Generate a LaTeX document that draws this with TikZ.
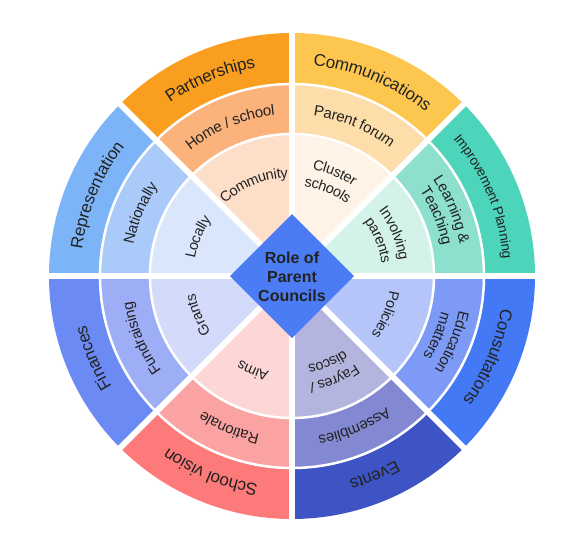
\documentclass[tikz,border=0pt]{standalone}
\usepackage{fontspec}
\setmainfont{Liberation Sans}
\usetikzlibrary{decorations.text}

\definecolor{commA}{HTML}{FCC64F}
\definecolor{commB}{HTML}{FDDDAA}
\definecolor{commC}{HTML}{FEF3E6}
\definecolor{imprA}{HTML}{4DD5BB}
\definecolor{imprB}{HTML}{8CE0CD}
\definecolor{imprC}{HTML}{D2F2EA}
\definecolor{consA}{HTML}{4479F5}
\definecolor{consB}{HTML}{7D9BF6}
\definecolor{consC}{HTML}{B5C5FA}
\definecolor{evenA}{HTML}{3E53C4}
\definecolor{evenB}{HTML}{8289D2}
\definecolor{evenC}{HTML}{B3B5DF}
\definecolor{visiA}{HTML}{FC7A79}
\definecolor{visiB}{HTML}{FBA3A2}
\definecolor{visiC}{HTML}{FDD6D6}
\definecolor{finaA}{HTML}{6B8AF4}
\definecolor{finaB}{HTML}{9DADF6}
\definecolor{finaC}{HTML}{D4DBFA}
\definecolor{reprA}{HTML}{7DB4F8}
\definecolor{reprB}{HTML}{AACBFA}
\definecolor{reprC}{HTML}{D9E6FC}
\definecolor{partA}{HTML}{F99E1E}
\definecolor{partB}{HTML}{FCB37B}
\definecolor{partC}{HTML}{FDDEC8}
\definecolor{hub}{HTML}{4B7CF3}
\definecolor{labeltext}{HTML}{222222}

\newcommand{\lblout}{\fontsize{17}{19}\selectfont}
\newcommand{\lblsmall}{\fontsize{13.5}{15}\selectfont}
\newcommand{\lblmid}{\fontsize{15}{17}\selectfont}
\newcommand{\lblin}{\fontsize{14.5}{16}\selectfont}

\tikzset{
  ringlabel/.style={decorate, decoration={text along path, text align=center, text color=labeltext, raise=-5.5pt}},
  gap/.style={white, line width=6pt},
  ringline/.style={white, line width=2.5pt}
}

\begin{document}
\begin{tikzpicture}[x=1pt,y=1pt]
  \useasboundingbox (-292,-276) rectangle (291,276);

  \fill[commA] (0,0) -- (90:243) arc[start angle=90, end angle=45, radius=243] -- cycle;
  \fill[imprA] (0,0) -- (45:243) arc[start angle=45, end angle=0, radius=243] -- cycle;
  \fill[consA] (0,0) -- (0:243) arc[start angle=0, end angle=-45, radius=243] -- cycle;
  \fill[evenA] (0,0) -- (-45:243) arc[start angle=-45, end angle=-90, radius=243] -- cycle;
  \fill[visiA] (0,0) -- (-90:243) arc[start angle=-90, end angle=-135, radius=243] -- cycle;
  \fill[finaA] (0,0) -- (-135:243) arc[start angle=-135, end angle=-180, radius=243] -- cycle;
  \fill[reprA] (0,0) -- (180:243) arc[start angle=180, end angle=135, radius=243] -- cycle;
  \fill[partA] (0,0) -- (135:243) arc[start angle=135, end angle=90, radius=243] -- cycle;

  \fill[commB] (0,0) -- (90:192) arc[start angle=90, end angle=45, radius=192] -- cycle;
  \fill[imprB] (0,0) -- (45:192) arc[start angle=45, end angle=0, radius=192] -- cycle;
  \fill[consB] (0,0) -- (0:192) arc[start angle=0, end angle=-45, radius=192] -- cycle;
  \fill[evenB] (0,0) -- (-45:192) arc[start angle=-45, end angle=-90, radius=192] -- cycle;
  \fill[visiB] (0,0) -- (-90:192) arc[start angle=-90, end angle=-135, radius=192] -- cycle;
  \fill[finaB] (0,0) -- (-135:192) arc[start angle=-135, end angle=-180, radius=192] -- cycle;
  \fill[reprB] (0,0) -- (180:192) arc[start angle=180, end angle=135, radius=192] -- cycle;
  \fill[partB] (0,0) -- (135:192) arc[start angle=135, end angle=90, radius=192] -- cycle;

  \fill[commC] (0,0) -- (90:142) arc[start angle=90, end angle=45, radius=142] -- cycle;
  \fill[imprC] (0,0) -- (45:142) arc[start angle=45, end angle=0, radius=142] -- cycle;
  \fill[consC] (0,0) -- (0:142) arc[start angle=0, end angle=-45, radius=142] -- cycle;
  \fill[evenC] (0,0) -- (-45:142) arc[start angle=-45, end angle=-90, radius=142] -- cycle;
  \fill[visiC] (0,0) -- (-90:142) arc[start angle=-90, end angle=-135, radius=142] -- cycle;
  \fill[finaC] (0,0) -- (-135:142) arc[start angle=-135, end angle=-180, radius=142] -- cycle;
  \fill[reprC] (0,0) -- (180:142) arc[start angle=180, end angle=135, radius=142] -- cycle;
  \fill[partC] (0,0) -- (135:142) arc[start angle=135, end angle=90, radius=142] -- cycle;

  \draw[ringline] (0,0) circle (192);
  \draw[ringline] (0,0) circle (142);

  \draw[gap] (0,0) -- (90:250);
  \draw[gap] (0,0) -- (45:250);
  \draw[gap] (0,0) -- (0:250);
  \draw[gap] (0,0) -- (-45:250);
  \draw[gap] (0,0) -- (-90:250);
  \draw[gap] (0,0) -- (-135:250);
  \draw[gap] (0,0) -- (180:250);
  \draw[gap] (0,0) -- (135:250);

  \path[ringlabel, decoration={text={|\lblout|Communications}}] (90:217) arc[start angle=90, end angle=45, radius=217];
  \path[ringlabel, decoration={text={|\lblsmall|Improvement Planning}}] (45:217) arc[start angle=45, end angle=0, radius=217];
  \path[ringlabel, decoration={text={|\lblout|Consultations}}] (0:217) arc[start angle=0, end angle=-45, radius=217];
  \path[ringlabel, decoration={text={|\lblout|Events}}] (-45:217) arc[start angle=-45, end angle=-90, radius=217];
  \path[ringlabel, decoration={text={|\lblout|School vision}}] (-90:217) arc[start angle=-90, end angle=-135, radius=217];
  \path[ringlabel, decoration={text={|\lblout|Finances}}] (-135:217) arc[start angle=-135, end angle=-180, radius=217];
  \path[ringlabel, decoration={text={|\lblout|Representation}}] (180:217) arc[start angle=180, end angle=135, radius=217];
  \path[ringlabel, decoration={text={|\lblout|Partnerships}}] (135:217) arc[start angle=135, end angle=90, radius=217];

  \path[ringlabel, decoration={text={|\lblmid|Parent forum}}] (90:167) arc[start angle=90, end angle=45, radius=167];
  \path[ringlabel, decoration={text={|\lblmid|Learning {\&}}}] (45:176) arc[start angle=45, end angle=0, radius=176];
  \path[ringlabel, decoration={text={|\lblmid|Teaching}}] (45:159) arc[start angle=45, end angle=0, radius=159];
  \path[ringlabel, decoration={text={|\lblmid|Education}}] (0:176) arc[start angle=0, end angle=-45, radius=176];
  \path[ringlabel, decoration={text={|\lblmid|matters}}] (0:159) arc[start angle=0, end angle=-45, radius=159];
  \path[ringlabel, decoration={text={|\lblmid|Assemblies}}] (-45:167) arc[start angle=-45, end angle=-90, radius=167];
  \path[ringlabel, decoration={text={|\lblmid|Rationale}}] (-90:167) arc[start angle=-90, end angle=-135, radius=167];
  \path[ringlabel, decoration={text={|\lblmid|Fundraising}}] (-135:167) arc[start angle=-135, end angle=-180, radius=167];
  \path[ringlabel, decoration={text={|\lblmid|Nationally}}] (180:167) arc[start angle=180, end angle=135, radius=167];
  \path[ringlabel, decoration={text={|\lblmid|Home / school}}] (135:167) arc[start angle=135, end angle=90, radius=167];

  \path[ringlabel, decoration={text={|\lblin|Cluster}}] (90:114) arc[start angle=90, end angle=45, radius=114];
  \path[ringlabel, decoration={text={|\lblin|schools}}] (90:96) arc[start angle=90, end angle=45, radius=96];
  \path[ringlabel, decoration={text={|\lblin|Involving}}] (45:114) arc[start angle=45, end angle=0, radius=114];
  \path[ringlabel, decoration={text={|\lblin|parents}}] (45:96) arc[start angle=45, end angle=0, radius=96];
  \path[ringlabel, decoration={text={|\lblin|Policies}}] (0:104) arc[start angle=0, end angle=-45, radius=104];
  \path[ringlabel, decoration={text={|\lblin|Fayres /}}] (-45:114) arc[start angle=-45, end angle=-90, radius=114];
  \path[ringlabel, decoration={text={|\lblin|discos}}] (-45:96) arc[start angle=-45, end angle=-90, radius=96];
  \path[ringlabel, decoration={text={|\lblin|Aims}}] (-90:104) arc[start angle=-90, end angle=-135, radius=104];
  \path[ringlabel, decoration={text={|\lblin|Grants}}] (-135:104) arc[start angle=-135, end angle=-180, radius=104];
  \path[ringlabel, decoration={text={|\lblin|Locally}}] (180:104) arc[start angle=180, end angle=135, radius=104];
  \path[ringlabel, decoration={text={|\lblin|Community}}] (135:104) arc[start angle=135, end angle=90, radius=104];

  \fill[hub] (0,62) -- (62,0) -- (0,-62) -- (-62,0) -- cycle;
  \node[align=center, font=\bfseries\fontsize{16}{19}\selectfont, text=labeltext] (role) at (0,-1) {Role of\\Parent\\Councils};

\end{tikzpicture}
\end{document}
